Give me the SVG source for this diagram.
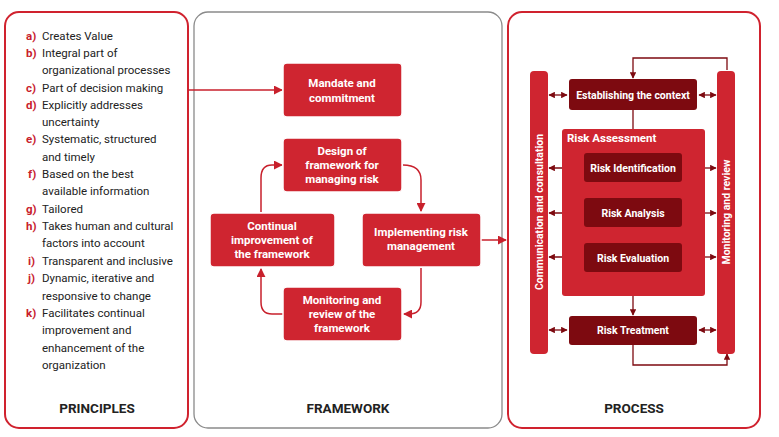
<svg xmlns="http://www.w3.org/2000/svg" width="779" height="437" viewBox="0 0 779 437">
<defs>
<style>
text{font-family:Roboto,"Liberation Sans",sans-serif}
.pl{font-size:11.5px;fill:#222}
.lt{font-size:11.5px;fill:#c8202c;font-weight:bold}
.hd{font-size:13.5px;font-weight:bold;fill:#222;text-anchor:middle}
.fb{fill:#cf2530;stroke:#fff;stroke-width:1.5}
.ft{font-size:11.5px;font-weight:bold;fill:#fff;text-anchor:middle}
.pb{fill:#7d0a10}
.pt{font-size:10.5px;font-weight:bold;fill:#fff;text-anchor:middle}
.ln{fill:none;stroke:#c8202c;stroke-width:1.5}
.dl{fill:none;stroke:#7d0a10;stroke-width:1.3}
</style>
<marker id="ar" viewBox="0 0 10 10" refX="9" refY="5" markerWidth="6" markerHeight="6" orient="auto-start-reverse"><path d="M0,0L10,5L0,10z" fill="#c8202c"/></marker>
<marker id="ad" viewBox="0 0 10 10" refX="9" refY="5" markerWidth="5" markerHeight="5" orient="auto-start-reverse"><path d="M0,0L10,5L0,10z" fill="#7d0a10"/></marker>
</defs>
<g id="principles">
<rect x="5" y="12" width="183" height="416" rx="14" fill="#fff" stroke="#d0222e" stroke-width="2"/>
<g>
<text class="lt" x="26" y="40">a)</text><text class="pl" x="42" y="40">Creates Value</text>
<text class="lt" x="26" y="57">b)</text><text class="pl" x="42" y="57">Integral part of</text><text class="pl" x="42" y="74">organizational processes</text>
<text class="lt" x="26" y="92">c)</text><text class="pl" x="42" y="92">Part of decision making</text>
<text class="lt" x="26" y="109">d)</text><text class="pl" x="42" y="109">Explicitly  addresses</text><text class="pl" x="42" y="126">uncertainty</text>
<text class="lt" x="26" y="143">e)</text><text class="pl" x="42" y="143">Systematic, structured</text><text class="pl" x="42" y="161">and timely</text>
<text class="lt" x="28" y="178">f)</text><text class="pl" x="42" y="178">Based on the best</text><text class="pl" x="42" y="195">available information</text>
<text class="lt" x="26" y="213">g)</text><text class="pl" x="42" y="213">Tailored</text>
<text class="lt" x="26" y="230">h)</text><text class="pl" x="42" y="230">Takes human and cultural</text><text class="pl" x="42" y="247">factors into account</text>
<text class="lt" x="28" y="265">i)</text><text class="pl" x="42" y="265">Transparent and inclusive</text>
<text class="lt" x="28" y="282">j)</text><text class="pl" x="42" y="282">Dynamic, iterative and</text><text class="pl" x="42" y="300">responsive to change</text>
<text class="lt" x="26" y="317">k)</text><text class="pl" x="42" y="317">Facilitates continual</text><text class="pl" x="42" y="334">improvement and</text><text class="pl" x="42" y="352">enhancement of the</text><text class="pl" x="42" y="369">organization</text>
</g>
<text class="hd" x="97" y="413">PRINCIPLES</text>
</g>
<g id="framework">
<rect x="194" y="12" width="308" height="416" rx="14" fill="#fff" stroke="#8a8a8a" stroke-width="1.3"/>
<text class="hd" x="348" y="413">FRAMEWORK</text>
</g>
<g id="process">
<rect x="508" y="12" width="252" height="416" rx="14" fill="#fff" stroke="#d0222e" stroke-width="2"/>
<text class="hd" x="634" y="413">PROCESS</text>
</g>
<g id="connectors">
<path class="ln" d="M188,90H282" marker-end="url(#ar)"/>
<path class="ln" d="M481,240H506" marker-end="url(#ar)"/>
<path class="ln" d="M403,165Q421,165 421,180V211" marker-end="url(#ar)"/>
<path class="ln" d="M421,268V302Q421,314 409,314H404" marker-end="url(#ar)"/>
<path class="ln" d="M283,314H272Q261,314 261,302V269" marker-end="url(#ar)"/>
<path class="ln" d="M261,212V178Q261,165 272,165H282" marker-end="url(#ar)"/>
<path class="dl" d="M727,70V58H633V78" marker-end="url(#ad)"/>
<path class="dl" d="M633,110V152" marker-end="url(#ad)"/>
<path class="dl" d="M633,182V197" marker-end="url(#ad)"/>
<path class="dl" d="M633,227V242" marker-end="url(#ad)"/>
<path class="dl" d="M633,272V315" marker-end="url(#ad)"/>
<path class="dl" d="M633,345V365H727V354" marker-end="url(#ad)"/>
<path class="dl" d="M549,95H567" marker-start="url(#ad)" marker-end="url(#ad)"/>
<path class="dl" d="M699,95H716" marker-start="url(#ad)" marker-end="url(#ad)"/>
<path class="dl" d="M549,168H582" marker-start="url(#ad)" marker-end="url(#ad)"/>
<path class="dl" d="M684,168H716" marker-start="url(#ad)" marker-end="url(#ad)"/>
<path class="dl" d="M549,213H582" marker-start="url(#ad)" marker-end="url(#ad)"/>
<path class="dl" d="M684,213H716" marker-start="url(#ad)" marker-end="url(#ad)"/>
<path class="dl" d="M549,257H582" marker-start="url(#ad)" marker-end="url(#ad)"/>
<path class="dl" d="M684,257H716" marker-start="url(#ad)" marker-end="url(#ad)"/>
<path class="dl" d="M549,330H567" marker-start="url(#ad)" marker-end="url(#ad)"/>
<path class="dl" d="M699,330H716" marker-start="url(#ad)" marker-end="url(#ad)"/>
</g>
<g id="mandate"><rect class="fb" x="283" y="63" width="119" height="54" rx="4"/><text class="ft" x="342" y="87">Mandate and</text><text class="ft" x="342" y="102">commitment</text></g>
<g id="design"><rect class="fb" x="283" y="138" width="119" height="54" rx="4"/><text class="ft" x="342" y="155">Design of</text><text class="ft" x="342" y="169">framework for</text><text class="ft" x="342" y="183">managing risk</text></g>
<g id="implementing"><rect class="fb" x="362" y="213" width="119" height="54" rx="4"/><text class="ft" x="421" y="236">Implementing risk</text><text class="ft" x="421" y="250">management</text></g>
<g id="continual"><rect class="fb" x="210" y="213" width="125" height="54" rx="4"/><text class="ft" x="272" y="230">Continual</text><text class="ft" x="272" y="244">improvement of</text><text class="ft" x="272" y="258">the framework</text></g>
<g id="monitoring-fw"><rect class="fb" x="283" y="287" width="119" height="54" rx="4"/><text class="ft" x="342" y="304">Monitoring and</text><text class="ft" x="342" y="318">review of the</text><text class="ft" x="342" y="332">framework</text></g>
<g id="communication"><rect x="530" y="71" width="18" height="283" rx="4" fill="#cf2530"/><text class="pt" transform="translate(543,212) rotate(-90)">Communication and consultation</text></g>
<g id="monitoring-review"><rect x="717" y="71" width="18" height="283" rx="4" fill="#cf2530"/><text class="pt" transform="translate(730,212) rotate(-90)">Monitoring and review</text></g>
<g id="risk-assessment"><rect x="562" y="129" width="143" height="167" rx="3" fill="#cf2530"/><text x="567" y="142" style="font-size:11.5px;font-weight:bold;fill:#fff">Risk Assessment</text></g>
<g id="context"><rect class="pb" x="569" y="79" width="128" height="31" rx="3"/><text class="pt" x="633" y="99">Establishing the context</text></g>
<g id="identification"><rect class="pb" x="584" y="153" width="98" height="29" rx="3"/><text class="pt" x="633" y="172">Risk Identification</text></g>
<g id="analysis"><rect class="pb" x="584" y="198" width="98" height="29" rx="3"/><text class="pt" x="633" y="217">Risk Analysis</text></g>
<g id="evaluation"><rect class="pb" x="584" y="243" width="98" height="29" rx="3"/><text class="pt" x="633" y="262">Risk Evaluation</text></g>
<g id="treatment"><rect class="pb" x="569" y="316" width="128" height="29" rx="3"/><text class="pt" x="633" y="334">Risk Treatment</text></g>
</svg>
